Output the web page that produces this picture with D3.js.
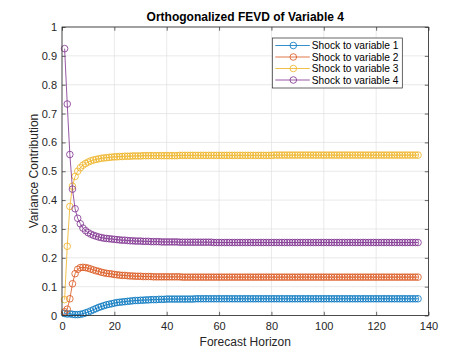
<!DOCTYPE html>
<html>
<head>
<meta charset="utf-8">
<script src="https://cdn.jsdelivr.net/npm/d3@7"></script>
<style>
  html, body { margin: 0; padding: 0; background: #fff; }
  svg { display: block; font-family: "Liberation Sans", Arial, Helvetica, sans-serif; }
</style>
</head>
<body>
<svg id="chart" width="474" height="355"></svg>
<script>
// ---- data ----
const titleText = "Orthogonalized FEVD of Variable 4";
const xLabel = "Forecast Horizon";
const yLabel = "Variance Contribution";
const seriesNames = ["Shock to variable 1", "Shock to variable 2", "Shock to variable 3", "Shock to variable 4"];
const seriesColors = ["#0072BD", "#D95319", "#EDB120", "#7E2F8E"];
const xTicks = [0, 20, 40, 60, 80, 100, 120, 140];
const yTicks = [0, 0.1, 0.2, 0.3, 0.4, 0.5, 0.6, 0.7, 0.8, 0.9, 1];
const horizon = d3.range(1, 137);

const shock1 = [
  0.007,0.005,0.006,0.004,0.003,0.003,0.004,0.006,0.009,0.012,
  0.016,0.020,0.024,0.028,0.031,0.034,0.037,0.039,0.041,0.043,
  0.045,0.046,0.047,0.048,0.049,0.050,0.051,0.052,0.052,0.053,
  0.053,0.054,0.054,0.055,0.055,0.055,0.056,0.056,0.056,0.057,
  0.057,0.057,0.057,0.057,0.057,0.057,0.057,0.057,0.057,0.057,
  0.058,0.058,0.058,0.058,0.058,0.058,0.058,0.058,0.058,0.058,
  0.058,0.058,0.058,0.058,0.058,0.058,0.058,0.058,0.058,0.058,
  0.058,0.058,0.058,0.058,0.058,0.058,0.058,0.058,0.058,0.058,
  0.058,0.058,0.058,0.058,0.058,0.058,0.058,0.058,0.058,0.058,
  0.058,0.058,0.058,0.058,0.058,0.058,0.058,0.058,0.058,0.058,
  0.058,0.058,0.058,0.058,0.058,0.058,0.058,0.058,0.058,0.058,
  0.058,0.058,0.058,0.058,0.058,0.058,0.058,0.058,0.058,0.058,
  0.058,0.058,0.058,0.058,0.058,0.058,0.058,0.058,0.058,0.058,
  0.058,0.058,0.058,0.058,0.058,0.058
];
const shock2 = [
  0.013,0.022,0.058,0.110,0.145,0.160,0.166,0.167,0.166,0.164,
  0.161,0.158,0.155,0.153,0.150,0.148,0.146,0.145,0.144,0.142,
  0.141,0.140,0.139,0.139,0.138,0.137,0.137,0.136,0.136,0.136,
  0.135,0.135,0.135,0.135,0.134,0.134,0.134,0.134,0.134,0.134,
  0.134,0.134,0.134,0.134,0.134,0.133,0.133,0.133,0.133,0.133,
  0.133,0.133,0.133,0.133,0.133,0.133,0.133,0.133,0.133,0.133,
  0.133,0.133,0.133,0.133,0.133,0.133,0.133,0.133,0.133,0.133,
  0.133,0.133,0.133,0.133,0.133,0.133,0.133,0.133,0.133,0.133,
  0.133,0.133,0.133,0.133,0.133,0.133,0.133,0.133,0.133,0.133,
  0.133,0.133,0.133,0.133,0.133,0.133,0.133,0.133,0.133,0.133,
  0.133,0.133,0.133,0.133,0.133,0.133,0.133,0.133,0.133,0.133,
  0.133,0.133,0.133,0.133,0.133,0.133,0.133,0.133,0.133,0.133,
  0.133,0.133,0.133,0.133,0.133,0.133,0.133,0.133,0.133,0.133,
  0.133,0.133,0.133,0.133,0.133,0.133
];
const shock3 = [
  0.055,0.240,0.378,0.448,0.482,0.500,0.512,0.521,0.527,0.532,
  0.536,0.539,0.541,0.543,0.545,0.546,0.547,0.548,0.549,0.550,
  0.550,0.551,0.551,0.552,0.552,0.552,0.553,0.553,0.553,0.553,
  0.554,0.554,0.554,0.554,0.554,0.554,0.554,0.554,0.554,0.554,
  0.554,0.554,0.554,0.554,0.555,0.555,0.555,0.555,0.555,0.555,
  0.555,0.555,0.555,0.555,0.555,0.555,0.555,0.555,0.555,0.555,
  0.555,0.555,0.555,0.555,0.555,0.555,0.555,0.555,0.555,0.555,
  0.555,0.555,0.555,0.555,0.555,0.555,0.555,0.555,0.555,0.555,
  0.556,0.556,0.556,0.556,0.556,0.556,0.556,0.556,0.556,0.556,
  0.556,0.556,0.556,0.556,0.556,0.556,0.556,0.556,0.556,0.556,
  0.556,0.556,0.556,0.556,0.556,0.556,0.556,0.556,0.556,0.556,
  0.556,0.556,0.556,0.556,0.556,0.556,0.556,0.556,0.556,0.556,
  0.556,0.556,0.556,0.556,0.556,0.556,0.556,0.556,0.556,0.556,
  0.556,0.556,0.556,0.556,0.556,0.556
];
const shock4 = [
  0.925,0.733,0.558,0.438,0.370,0.337,0.318,0.303,0.294,0.287,
  0.282,0.278,0.275,0.272,0.270,0.268,0.267,0.266,0.265,0.264,
  0.263,0.262,0.261,0.261,0.260,0.259,0.259,0.258,0.258,0.258,
  0.257,0.257,0.257,0.256,0.256,0.256,0.256,0.255,0.255,0.255,
  0.255,0.255,0.255,0.255,0.254,0.254,0.254,0.254,0.254,0.254,
  0.254,0.254,0.254,0.254,0.254,0.254,0.254,0.253,0.253,0.253,
  0.253,0.253,0.253,0.253,0.253,0.253,0.253,0.253,0.253,0.253,
  0.253,0.253,0.253,0.253,0.253,0.253,0.253,0.253,0.253,0.253,
  0.253,0.253,0.253,0.253,0.253,0.253,0.253,0.253,0.253,0.253,
  0.253,0.253,0.253,0.253,0.253,0.253,0.253,0.253,0.253,0.253,
  0.253,0.253,0.253,0.253,0.253,0.253,0.253,0.253,0.253,0.253,
  0.253,0.253,0.253,0.253,0.253,0.253,0.253,0.253,0.253,0.253,
  0.253,0.253,0.253,0.253,0.253,0.253,0.253,0.253,0.253,0.253,
  0.253,0.253,0.253,0.253,0.253,0.253
];
const seriesValues = [shock1, shock2, shock3, shock4];

// ---- layout ----
const svg = d3.select("#chart");
const plot = { left: 62, right: 428.5, top: 27, bottom: 315.5 };
const x = d3.scaleLinear().domain([0, 140]).range([plot.left, plot.right]);
const y = d3.scaleLinear().domain([0, 1]).range([plot.bottom, plot.top]);
const axisColor = "#262626";
const gridColor = "#dfdfdf";
const tickLen = 3.7;

svg.append("rect").attr("width", 474).attr("height", 355).attr("fill", "#fff");
svg.append("rect")
  .attr("x", plot.left).attr("y", plot.top)
  .attr("width", plot.right - plot.left).attr("height", plot.bottom - plot.top)
  .attr("fill", "#fff");

// grid
const grid = svg.append("g").attr("stroke", gridColor).attr("stroke-width", 0.7);
grid.selectAll(".gx").data(xTicks).join("line")
  .attr("x1", d => x(d)).attr("x2", d => x(d))
  .attr("y1", plot.top).attr("y2", plot.bottom);
grid.selectAll(".gy").data(yTicks).join("line")
  .attr("y1", d => y(d)).attr("y2", d => y(d))
  .attr("x1", plot.left).attr("x2", plot.right);

// axes
function styleAxis(g) {
  g.select(".domain").remove();
  g.selectAll(".tick line").attr("stroke", axisColor).attr("stroke-width", 0.7);
  g.selectAll(".tick text").attr("fill", axisColor).attr("font-size", 11)
    .attr("font-family", '"Liberation Sans", Arial, Helvetica, sans-serif');
}
svg.append("g").attr("transform", `translate(0,${plot.bottom})`)
  .call(d3.axisBottom(x).tickValues(xTicks).tickFormat(d3.format("d")).tickSizeInner(-tickLen).tickSizeOuter(0).tickPadding(6.5))
  .call(styleAxis);
svg.append("g").attr("transform", `translate(0,${plot.top})`)
  .call(d3.axisTop(x).tickValues(xTicks).tickFormat("").tickSizeInner(-tickLen).tickSizeOuter(0))
  .call(styleAxis);
svg.append("g").attr("transform", `translate(${plot.left},0)`)
  .call(d3.axisLeft(y).tickValues(yTicks).tickFormat(d => d3.format("")(+d.toFixed(1))).tickSizeInner(-tickLen).tickSizeOuter(0).tickPadding(5))
  .call(styleAxis);
svg.append("g").attr("transform", `translate(${plot.right},0)`)
  .call(d3.axisRight(y).tickValues(yTicks).tickFormat("").tickSizeInner(-tickLen).tickSizeOuter(0))
  .call(styleAxis);

// series
const line = d3.line().x((d, i) => x(horizon[i])).y(d => y(d));
const seriesG = svg.append("g");
seriesValues.forEach((vals, si) => {
  const g = seriesG.append("g");
  g.append("path").datum(vals).attr("d", line)
    .attr("fill", "none").attr("stroke", seriesColors[si]).attr("stroke-width", 0.8);
  g.selectAll("circle").data(vals).join("circle")
    .attr("cx", (d, i) => x(horizon[i])).attr("cy", d => y(d)).attr("r", 3.3)
    .attr("fill", "none").attr("stroke", seriesColors[si]).attr("stroke-width", 0.8);
});

// box
svg.append("rect")
  .attr("x", plot.left).attr("y", plot.top)
  .attr("width", plot.right - plot.left).attr("height", plot.bottom - plot.top)
  .attr("fill", "none").attr("stroke", axisColor).attr("stroke-width", 0.8);

// title & labels
svg.append("text").attr("x", (plot.left + plot.right) / 2).attr("y", 21)
  .attr("text-anchor", "middle").attr("font-size", 12).attr("font-weight", "bold")
  .attr("fill", "#000").text(titleText);
svg.append("text").attr("x", (plot.left + plot.right) / 2).attr("y", 346)
  .attr("text-anchor", "middle").attr("font-size", 12).attr("fill", axisColor).text(xLabel);
svg.append("text").attr("transform", `translate(38,171) rotate(-90)`)
  .attr("text-anchor", "middle").attr("font-size", 12).attr("fill", axisColor).text(yLabel);

// legend
const leg = { x: 272.3, y: 38, w: 130, h: 50, row0: 45.5, step: 11.5 };
const lg = svg.append("g");
lg.append("rect").attr("x", leg.x).attr("y", leg.y).attr("width", leg.w).attr("height", leg.h)
  .attr("fill", "#fff").attr("stroke", axisColor).attr("stroke-width", 0.7);
seriesNames.forEach((name, i) => {
  const cy = leg.row0 + i * leg.step;
  lg.append("line").attr("x1", leg.x + 3).attr("x2", leg.x + 37.5).attr("y1", cy).attr("y2", cy)
    .attr("stroke", seriesColors[i]).attr("stroke-width", 0.8);
  lg.append("circle").attr("cx", leg.x + 21).attr("cy", cy).attr("r", 3.3)
    .attr("fill", "none").attr("stroke", seriesColors[i]).attr("stroke-width", 0.8);
  lg.append("text").attr("x", leg.x + 39.5).attr("y", cy).attr("dy", "0.35em")
    .attr("font-size", 10.2).attr("fill", "#000").text(name);
});
</script>
</body>
</html>
